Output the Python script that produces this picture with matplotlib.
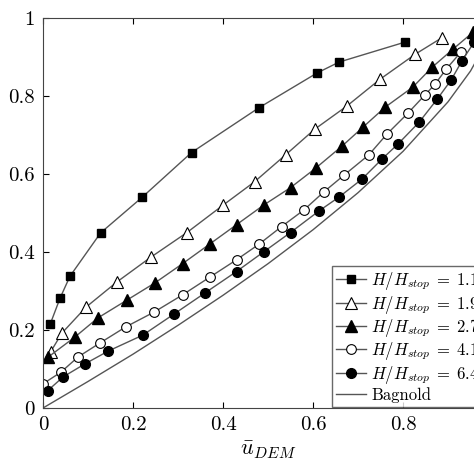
import matplotlib
matplotlib.use("Agg")
import matplotlib.pyplot as plt

plt.rcParams['font.family'] = 'serif'
plt.rcParams['font.serif'] = ['cmr10', 'DejaVu Serif']
plt.rcParams['mathtext.fontset'] = 'cm'
plt.rcParams['axes.formatter.use_mathtext'] = True

sq_x = [0.016, 0.038, 0.06, 0.128, 0.22, 0.33, 0.48, 0.609, 0.658, 0.804]
sq_y = [0.215, 0.282, 0.338, 0.449, 0.54, 0.655, 0.77, 0.859, 0.887, 0.938]

ot_x = [0.017, 0.042, 0.096, 0.164, 0.24, 0.32, 0.40, 0.47, 0.54, 0.604, 0.675, 0.749, 0.827, 0.886]
ot_y = [0.144, 0.192, 0.259, 0.323, 0.387, 0.45, 0.52, 0.58, 0.65, 0.715, 0.774, 0.843, 0.907, 0.949]

ft_x = [0.012, 0.071, 0.122, 0.187, 0.249, 0.31, 0.37, 0.43, 0.49, 0.55, 0.606, 0.665, 0.711, 0.76, 0.822, 0.865, 0.911, 0.956]
ft_y = [0.131, 0.182, 0.231, 0.277, 0.321, 0.37, 0.42, 0.47, 0.52, 0.565, 0.615, 0.672, 0.72, 0.771, 0.823, 0.874, 0.92, 0.964]

oc_x = [0.0, 0.04, 0.078, 0.127, 0.184, 0.247, 0.31, 0.37, 0.43, 0.48, 0.53, 0.58, 0.624, 0.669, 0.724, 0.764, 0.811, 0.849, 0.871, 0.896, 0.929]
oc_y = [0.062, 0.092, 0.131, 0.167, 0.208, 0.246, 0.29, 0.335, 0.38, 0.42, 0.465, 0.508, 0.554, 0.597, 0.649, 0.702, 0.756, 0.803, 0.83, 0.869, 0.913]

fc_x = [0.01, 0.045, 0.093, 0.145, 0.222, 0.29, 0.36, 0.43, 0.49, 0.55, 0.613, 0.658, 0.709, 0.753, 0.789, 0.836, 0.876, 0.907, 0.931, 0.958]
fc_y = [0.044, 0.08, 0.113, 0.146, 0.187, 0.24, 0.295, 0.35, 0.40, 0.45, 0.505, 0.541, 0.587, 0.638, 0.677, 0.733, 0.792, 0.841, 0.89, 0.938]

bag_x = [0, 0.1, 0.2, 0.3, 0.4, 0.5, 0.6, 0.7, 0.8, 0.9, 0.95, 0.98, 0.99, 1.0]
bag_y = [0, 0.068, 0.138, 0.212, 0.289, 0.37, 0.457, 0.552, 0.658, 0.785, 0.864, 0.926, 0.954, 1.0]

labels = [r'$H/H_{stop}\;=\;1.1$', r'$H/H_{stop}\;=\;1.9$', r'$H/H_{stop}\;=\;2.7$',
          r'$H/H_{stop}\;=\;4.1$', r'$H/H_{stop}\;=\;6.4$', 'Bagnold']

fig = plt.figure(figsize=(4.74, 4.74), dpi=100)
ax = fig.add_axes([43/474, 1-408/474, 450/474, 390/474])
lc = '#555555'
ms = 7
ax.plot(sq_x, sq_y, '-', color=lc, lw=1, marker='s', mfc='black', mec='black', ms=ms-1, label=labels[0])
ax.plot(ot_x, ot_y, '-', color=lc, lw=1, marker='^', mfc='white', mec='black', ms=ms+1, mew=0.8, label=labels[1])
ax.plot(ft_x, ft_y, '-', color=lc, lw=1, marker='^', mfc='black', mec='black', ms=ms+1, label=labels[2])
ax.plot(oc_x, oc_y, '-', color=lc, lw=1, marker='o', mfc='white', mec='black', ms=ms, mew=0.8, label=labels[3])
ax.plot(fc_x, fc_y, '-', color=lc, lw=1, marker='o', mfc='black', mec='black', ms=ms, label=labels[4])
ax.plot(bag_x, bag_y, '-', color=lc, lw=1, label=labels[5])

ax.set_xlim(0, 1)
ax.set_ylim(0, 1)
ticks = [0, 0.2, 0.4, 0.6, 0.8, 1]
ax.set_xticks(ticks)
ax.set_yticks(ticks)
ax.set_xticklabels(['0', '0.2', '0.4', '0.6', '0.8', '1'])
ax.set_yticklabels(['0', '0.2', '0.4', '0.6', '0.8', '1'])
ax.tick_params(direction='in', labelsize=15, length=4, top=True, right=True, pad=6)
for s in ax.spines.values():
    s.set_color('#444444')
ax.set_xlabel(r'$\bar{u}_{DEM}$', fontsize=16, labelpad=4)

leg = ax.legend(loc='upper left', bbox_to_anchor=(0.642, 0.364), borderaxespad=0,
                fontsize=12, frameon=True, fancybox=False, handlelength=1.8,
                handletextpad=0.3, labelspacing=0.08, borderpad=0.25)
leg.get_frame().set_edgecolor('#444444')
leg.get_frame().set_linewidth(1)

fig.savefig('out.png', dpi=100)
